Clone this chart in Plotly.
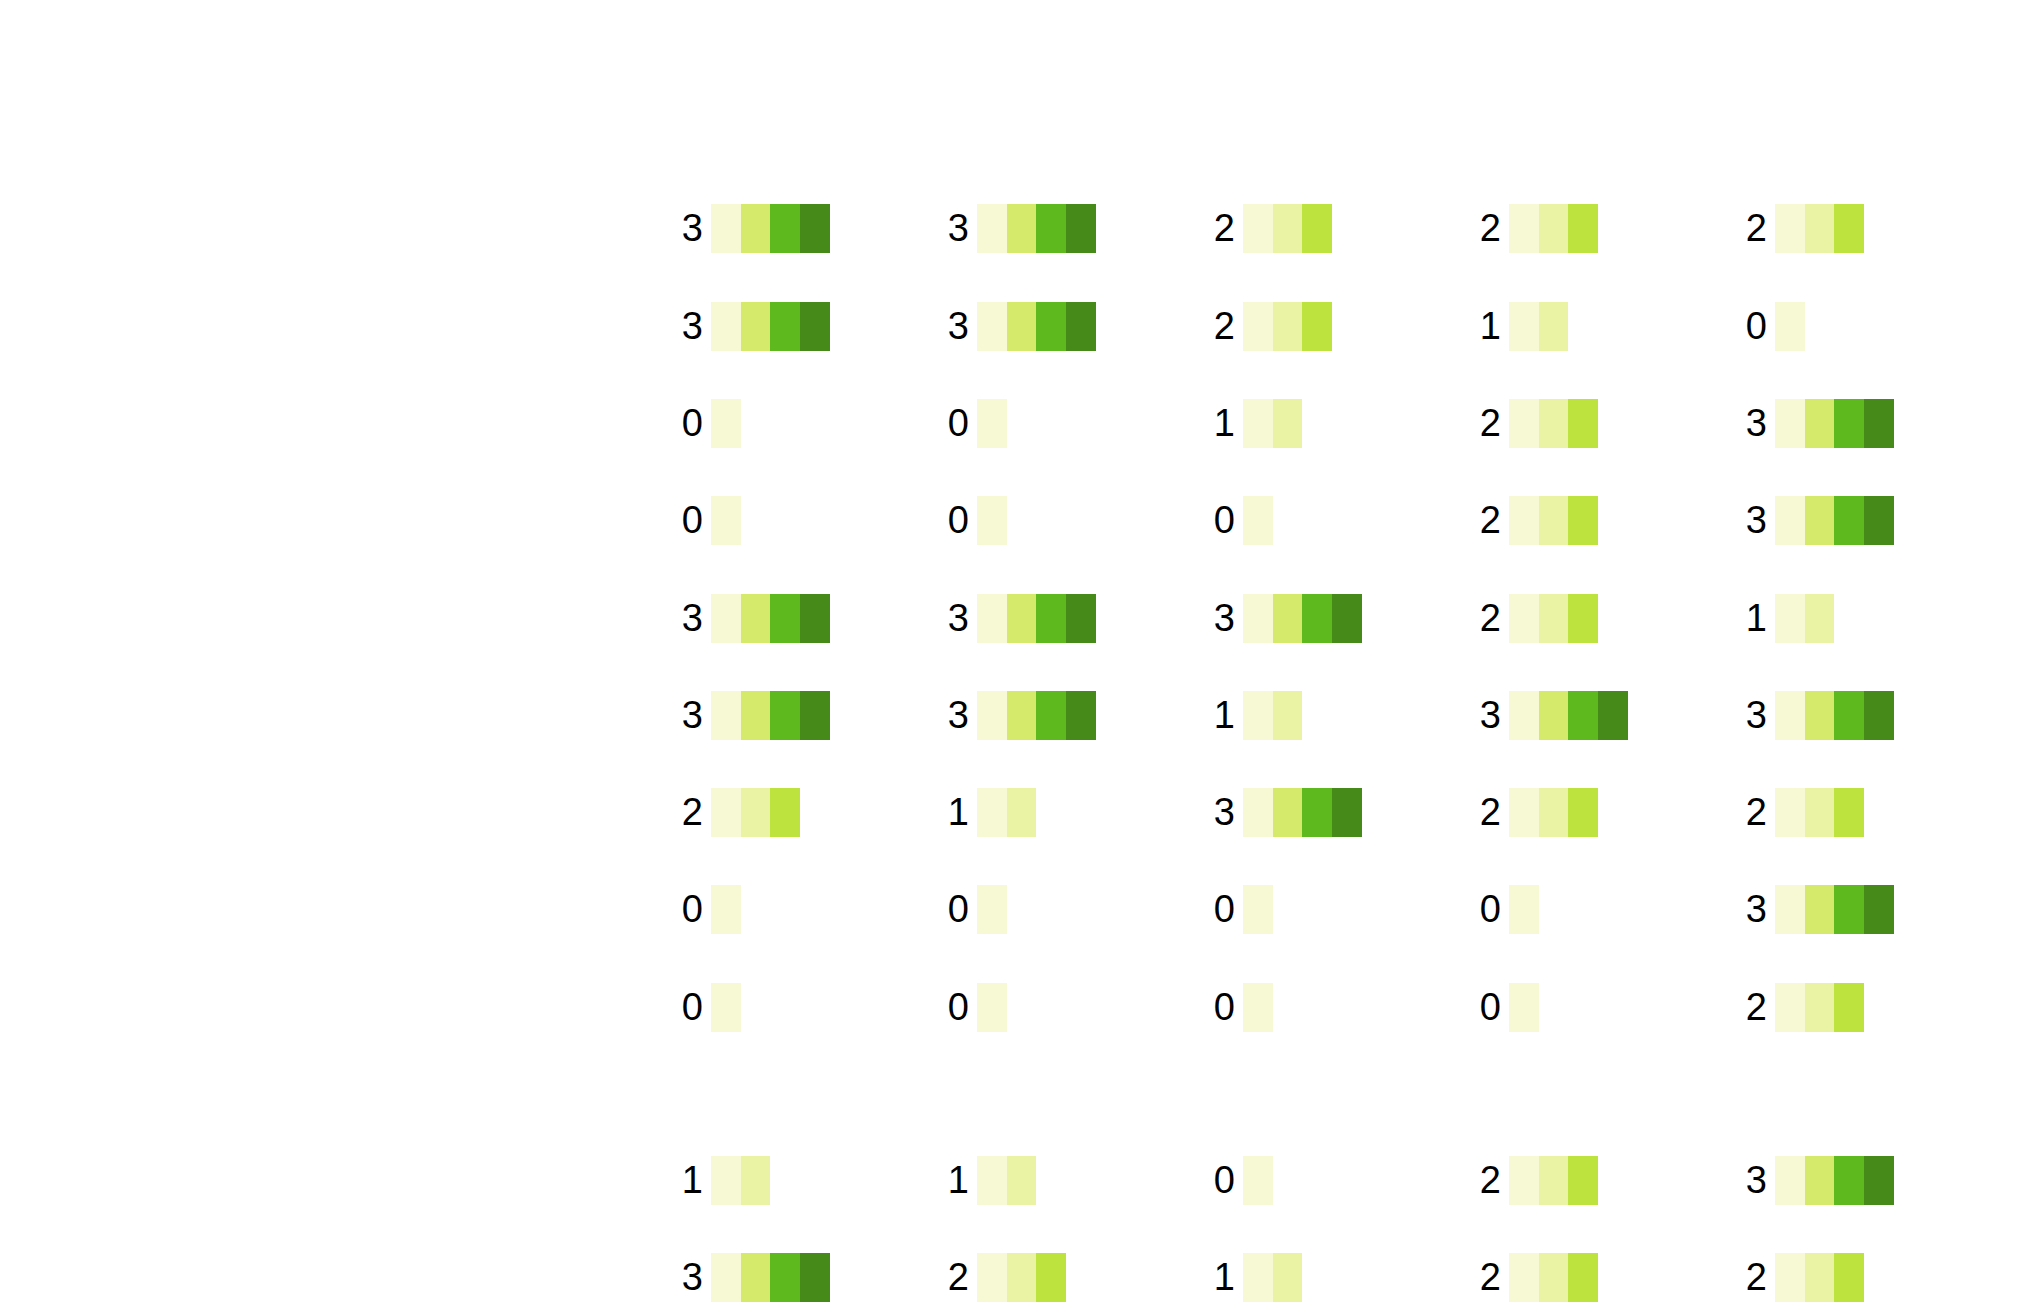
import plotly.graph_objects as go

# ---- data ----
columns = ["C1", "C2", "C3", "C4", "C5"]
row_ids = ["R1", "R2", "R3", "R4", "R5", "R6", "R7", "R8", "R9", "R10", "R11"]
col1 = [3, 3, 0, 0, 3, 3, 2, 0, 0, 1, 3]
col2 = [3, 3, 0, 0, 3, 3, 1, 0, 0, 1, 2]
col3 = [2, 2, 1, 0, 3, 1, 3, 0, 0, 0, 1]
col4 = [2, 1, 2, 2, 2, 3, 2, 0, 0, 2, 2]
col5 = [2, 0, 3, 3, 1, 3, 2, 3, 2, 3, 2]
values = [col1, col2, col3, col4, col5]

# colour of each square, by cell value
palettes = {
    0: ["#F6F9D3"],
    1: ["#F6F9D3", "#EAF3A4"],
    2: ["#F6F9D3", "#EAF3A4", "#BDE33E"],
    3: ["#F6F9D3", "#D5EA6B", "#5EB91F", "#468B1A"],
}

# ---- layout constants (pixels) ----
W, H = 2030, 1302
sq_w = 29.7
sq_h = 49
col_x0 = 711
col_pitch = 266
row_y0 = 228.8
row_pitch = 97.3
group_gap = 76  # extra space before row 10

def row_y(i):
    return row_y0 + i * row_pitch + (group_gap if i >= 9 else 0)

fig = go.Figure()

for c, vals in enumerate(values):
    for level in range(4):
        ys, xs, bases, cols = [], [], [], []
        for i, v in enumerate(vals):
            if v >= level:
                ys.append(row_y(i))
                xs.append(sq_w)
                bases.append(col_x0 + c * col_pitch + level * sq_w)
                cols.append(palettes[v][level])
        if ys:
            fig.add_trace(go.Bar(
                orientation="h", y=ys, x=xs, base=bases, width=sq_h,
                marker=dict(color=cols, line=dict(width=0)),
                showlegend=False, hoverinfo="skip"))
    fig.add_trace(go.Scatter(
        x=[col_x0 + c * col_pitch - 8] * len(vals),
        y=[row_y(i) + 3 for i in range(len(vals))],
        mode="text", text=[str(v) for v in vals],
        textposition="middle left",
        textfont=dict(family="Liberation Sans, Arial", size=38, color="#000000"),
        showlegend=False, hoverinfo="skip"))

fig.update_layout(
    width=W, height=H, barmode="overlay", bargap=0,
    margin=dict(l=0, r=0, t=0, b=0),
    paper_bgcolor="white", plot_bgcolor="white",
    xaxis=dict(range=[0, W], visible=False, fixedrange=True),
    yaxis=dict(range=[H, 0], visible=False, fixedrange=True),
)

fig.write_html("out.html")
